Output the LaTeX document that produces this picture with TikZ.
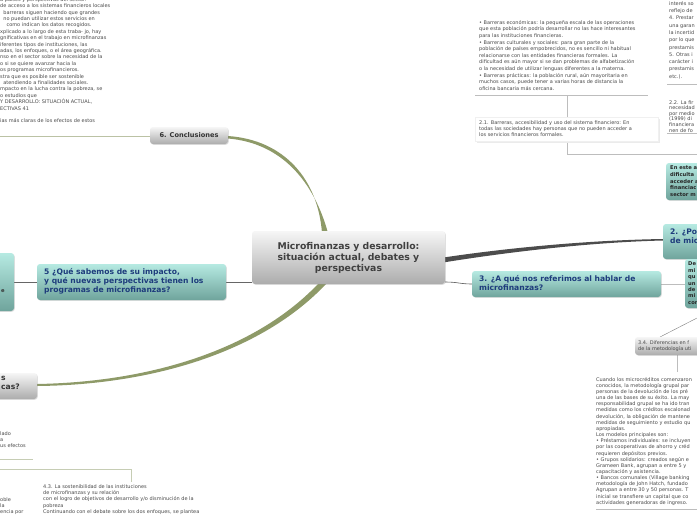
\documentclass[tikz,border=0pt]{standalone}
\usepackage{fontspec}
\setmainfont{DejaVu Sans}
\usetikzlibrary{shadows}
\definecolor{tealT}{HTML}{B6EAE2}
\definecolor{tealB}{HTML}{6FA49C}
\definecolor{navy}{HTML}{1E3C7C}
\definecolor{grayT}{HTML}{F6F6F6}
\definecolor{grayB}{HTML}{ACACAC}
\definecolor{olive}{HTML}{8E9A68}
\definecolor{txtc}{HTML}{4A4A4A}
\definecolor{linec}{HTML}{BDBDBD}
\tikzset{
  x=1pt,y=-1pt,
  txt/.style={anchor=north west,inner sep=0pt,align=left,text=txtc,font=\fontsize{5}{6.4}\selectfont},
  tealbox/.style={rounded corners=3pt,top color=tealT,bottom color=tealB,draw=none,drop shadow={opacity=0.25,shadow xshift=0.8pt,shadow yshift=-0.8pt}},
  graybox/.style={rounded corners=3pt,top color=grayT,bottom color=grayB,draw=none,drop shadow={opacity=0.25,shadow xshift=0.8pt,shadow yshift=-0.8pt}},
  btxt/.style={anchor=north west,inner sep=0pt,align=left,text=navy,font=\bfseries\fontsize{7.6}{9}\selectfont},
  sline/.style={draw=linec,line width=0.8pt},
}
\begin{document}
\begin{tikzpicture}
\useasboundingbox (0,0) rectangle (697,520);
\fill[white] (0,0) rectangle (697,520);
% connectors
\fill[olive] (322,233) .. controls (318,180) and (285,140) .. (228,136) -- (228,138.5) .. controls (282,143) and (314,182) .. (328,233) -- cycle;
\fill[olive] (318,284) .. controls (255,350) and (150,382) .. (37,384) -- (37,386) .. controls (152,385) and (262,352) .. (326,284) -- cycle;
\fill[black!70] (440,258) .. controls (520,246) and (600,240) .. (663,239) -- (663,240.5) .. controls (600,242) and (520,250) .. (440,263) -- cycle;
\draw[black!65,line width=0.6pt] (445,282) .. controls (458,282) and (460,284) .. (472,284);
\draw[black!60,line width=0.5pt] (226,282) -- (252,282);
\draw[black!60,line width=0.5pt] (14,282) -- (37,282);
\draw[sline] (661,284) -- (685,284);
\draw[black!50,line width=0.4pt] (660,337) -- (697,318);
\draw[sline] (677,355) -- (677,372);
\draw[olive!60,line width=0.8pt] (0,136) -- (150,136);
% right top lines
\draw[sline] (475,95) -- (648,95);
\draw[sline] (567,95) -- (567,154) -- (697,154);
\draw[sline] (667,84) -- (697,84);
\draw[sline] (667,133) -- (697,133);
\draw[sline] (596,509) -- (697,509);
% bottom left lines
\draw[olive!50,line width=0.6pt] (0,459) -- (33,459);
\draw[olive!50,line width=0.8pt] (0,469) -- (131,469) -- (131,482);
% boxes
\shade[graybox] (252,231) rectangle (445,284);
\node[inner sep=0pt,align=center,text=black!75,font=\bfseries\fontsize{9.3}{11}\selectfont] (central) at (348.5,258) {Microfinanzas y desarrollo:\\situación actual, debates y\\perspectivas};
\shade[tealbox] (37,264) rectangle (226,300);
\node[btxt] (b5) at (44,268) {5 ¿Qué sabemos de su impacto,\\y qué nuevas perspectivas tienen los\\programas de microfinanzas?};
\shade[tealbox] (472,271) rectangle (661,297);
\node[btxt] (b3) at (479,275) {3. ¿A qué nos referimos al hablar de\\microfinanzas?};
\shade[tealbox] (663,224) rectangle (705,259);
\node[btxt] (b2) at (670,229) {2. ¿Por\\de micr};
\shade[tealbox] (666,163) rectangle (705,200);
\node[anchor=north west,inner sep=0pt,align=left,text=black!85,font=\bfseries\fontsize{5.2}{6.6}\selectfont] (en) at (670,166) {En este a\\dificulta\\acceder a\\financiac\\sector m};
\shade[tealbox] (685,259) rectangle (705,308);
\node[anchor=north west,inner sep=0pt,align=left,text=black!85,font=\bfseries\fontsize{5.2}{6.4}\selectfont] (de) at (688,262) {De\\mi\\qu\\un\\de\\mi\\con};
\shade[tealbox] (-10,253) rectangle (14,311);
\node[anchor=north west,inner sep=0pt,font=\bfseries\fontsize{5.2}{6}\selectfont,text=black!80] (le) at (1,289) {e};
\shade[graybox] (150,127) rectangle (228,144);
\node[inner sep=0pt,text=black!80,font=\bfseries\fontsize{6.6}{8}\selectfont] (concl) at (189,135.5) {6. Conclusiones};
\shade[graybox] (-10,373) rectangle (37,399);
\node[anchor=north west,inner sep=0pt,align=left,text=black!80,font=\bfseries\fontsize{7.6}{9}\selectfont] (cas) at (1,376) {s\\cas?};
\shade[graybox] (635,337) rectangle (705,355);
\node[txt] (d34) at (638,340) {3.4. Diferencias en f\\de la metodología uti};
\fill[black!8] (476.5,118.5) rectangle (659.5,142.5);
\fill[white,draw=black!6] (475,117) rectangle (658,141);
\node[txt] (b21) at (479,120) {2.1. Barreras, accesibilidad y uso del sistema financiero: En\\todas las sociedades hay personas que no pueden acceder a\\los servicios financieros formales.};
% text blocks
\node[txt,font=\fontsize{5}{6.6}\selectfont] (barr) at (479,20) {• Barreras económicas: la pequeña escala de las operaciones\\que esta población podría desarrollar no las hace interesantes\\para las instituciones financieras.\\• Barreras culturales y sociales: para gran parte de la\\población de países empobrecidos, no es sencillo ni habitual\\relacionarse con las entidades financieras formales. La\\dificultad es aún mayor si se dan problemas de alfabetización\\o la necesidad de utilizar lenguas diferentes a la materna.\\• Barreras prácticas: la población rural, aún mayoritaria en\\muchos casos, puede tener a varias horas de distancia la\\oficina bancaria más cercana.};
\node[txt,font=\fontsize{5}{7.3}\selectfont] (rtop) at (669,1) {interés so\\reflejo de\\4. Prestar\\una garan\\la incertid\\por lo que\\prestamis\\5. Otras i\\carácter i\\prestamis\\etc.).};
\node[txt,font=\fontsize{5}{5.6}\selectfont] (r22) at (669,100) {2.2. La fir\\necesidad\\por medio\\(1999) di\\financiera\\nen de fo};
\node[txt] (tl) at (0,-3) {a países y perspectivas del sector.\\de acceso a los sistemas financieros locales\\\ \ barreras siguen haciendo que grandes\\\ \ no puedan utilizar estos servicios en\\\ \ \ \ como indican los datos recogidos.\\xplicado a lo largo de esta traba- jo, hay\\gnificativas en el trabajo en microfinanzas\\iferentes tipos de instituciones, las\\adas, los enfoques, o el área geográfica.\\nso en el sector sobre la necesidad de la\\o si se quiere avanzar hacia la\\os programas microfinancieros.\\stra que es posible ser sostenible\\\ \ atendiendo a finalidades sociales.\\mpacto en la lucha contra la pobreza, se\\o estudios que\\Y DESARROLLO: SITUACIÓN ACTUAL,\\ECTIVAS 41\\[6.4pt]ias más claras de los efectos de estos};
\node[txt,font=\fontsize{5}{6.15}\selectfont] (m34) at (596,377) {Cuando los microcréditos comenzaron\\conocidos, la metodología grupal par\\personas de la devolución de los pré\\una de las bases de su éxito. La may\\responsabilidad grupal se ha ido tran\\medidas como los créditos escalonad\\devolución, la obligación de mantene\\medidas de seguimiento y estudio qu\\apropiadas.\\Los modelos principales son:\\• Préstamos individuales: se incluyen\\por las cooperativas de ahorro y créd\\requieren depósitos previos.\\• Grupos solidarios: creados según e\\Grameen Bank, agrupan a entre 5 y\\capacitación y asistencia.\\• Bancos comunales (Village banking\\metodología de John Hatch, fundado\\Agrupan a entre 30 y 50 personas. T\\inicial se transfiere un capital que co\\actividades generadoras de ingreso.};
\node[txt] (b43) at (43,484) {4.3. La sostenibilidad de las instituciones\\de microfinanzas y su relación\\con el logro de objetivos de desarrollo y/o disminución de la\\pobreza\\Continuando con el debate sobre los dos enfoques, se plantea};
\node[txt] (lfx) at (0,431) {lado\\a\\us efectos};
\node[txt] (lfy) at (0,497) {oble\\la\\encia por};
\end{tikzpicture}
\end{document}
